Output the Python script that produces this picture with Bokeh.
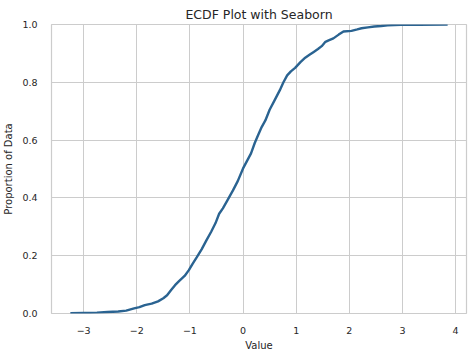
from bokeh.plotting import figure
from bokeh.models import Range1d, FixedTicker, Title
from bokeh.embed import file_html
from bokeh.resources import INLINE

# ECDF curve (value, proportion)
values = [-3.25, -3.0, -2.75, -2.55, -2.35, -2.2, -2.05, -1.95, -1.85, -1.72, -1.6, -1.5,
          -1.43, -1.35, -1.28, -1.2, -1.1, -1.02, -0.95, -0.87, -0.78, -0.69, -0.6, -0.52,
          -0.45, -0.38, -0.3, -0.19, -0.1, 0.0, 0.08, 0.15, 0.22, 0.28, 0.35, 0.42, 0.5,
          0.6, 0.69, 0.76, 0.83, 0.9, 0.98, 1.08, 1.17, 1.25, 1.33, 1.41, 1.48, 1.55, 1.61,
          1.7, 1.8, 1.89, 2.04, 2.15, 2.23, 2.35, 2.47, 2.6, 2.72, 2.97, 3.3, 3.85]
proportions = [0.001, 0.002, 0.003, 0.005, 0.007, 0.010, 0.018, 0.022, 0.029, 0.034, 0.042,
               0.053, 0.063, 0.082, 0.098, 0.113, 0.130, 0.150, 0.172, 0.195, 0.222, 0.253,
               0.283, 0.312, 0.345, 0.364, 0.39, 0.426, 0.458, 0.502, 0.53, 0.554, 0.59,
               0.616, 0.645, 0.668, 0.705, 0.74, 0.772, 0.80, 0.824, 0.838, 0.85, 0.87,
               0.885, 0.895, 0.905, 0.915, 0.925, 0.94, 0.945, 0.952, 0.965, 0.976, 0.978,
               0.983, 0.987, 0.99, 0.993, 0.995, 0.997, 0.999, 0.999, 1.0]

x_ticks = [-3, -2, -1, 0, 1, 2, 3, 4]
x_tick_labels = ["\u22123", "\u22122", "\u22121", "0", "1", "2", "3", "4"]
y_ticks = [0.0, 0.2, 0.4, 0.6, 0.8, 1.0]
y_tick_labels = ["0.0", "0.2", "0.4", "0.6", "0.8", "1.0"]

FONT = "DejaVu Sans"
TXT = "#262626"
GRID = "#cccccc"

p = figure(width=474, height=353, output_backend="svg", toolbar_location=None,
           x_range=Range1d(-3.605, 4.205), y_range=Range1d(0, 1),
           min_border_left=46, min_border_right=8, min_border_top=24, min_border_bottom=40)
p.title = Title(text="ECDF Plot with Seaborn", align="center", text_font=FONT,
                text_font_size="12.5px", text_font_style="normal", text_color=TXT,
                offset=0, standoff=5)
p.background_fill_color = "white"
p.border_fill_color = "white"
p.outline_line_color = GRID
p.outline_line_width = 1.2

p.line(values, proportions, line_color="#2a6391", line_width=2.4)

for ax in (p.xaxis[0], p.yaxis[0]):
    ax.major_tick_line_color = None
    ax.minor_tick_line_color = None
    ax.axis_line_color = None
    ax.major_label_text_font = FONT
    ax.major_label_text_font_size = "9.5px"
    ax.major_label_text_color = TXT
    ax.axis_label_text_font = FONT
    ax.axis_label_text_font_size = "10px"
    ax.axis_label_text_font_style = "normal"
    ax.axis_label_text_color = TXT

p.xaxis.ticker = FixedTicker(ticks=x_ticks)
p.xaxis.major_label_overrides = {t: l for t, l in zip(x_ticks, x_tick_labels)}
p.yaxis.ticker = FixedTicker(ticks=y_ticks)
p.yaxis.major_label_overrides = {t: l for t, l in zip(y_ticks, y_tick_labels)}
p.xaxis.axis_label = "Value"
p.yaxis.axis_label = "Proportion of Data"
p.xaxis.major_label_standoff = 7
p.xaxis.axis_label_standoff = 3
p.yaxis.major_label_standoff = 8
p.yaxis.axis_label_standoff = 5

p.xgrid.grid_line_color = GRID
p.ygrid.grid_line_color = GRID
p.xgrid.grid_line_width = 1
p.ygrid.grid_line_width = 1

open("out.html", "w").write(file_html(p, INLINE))
